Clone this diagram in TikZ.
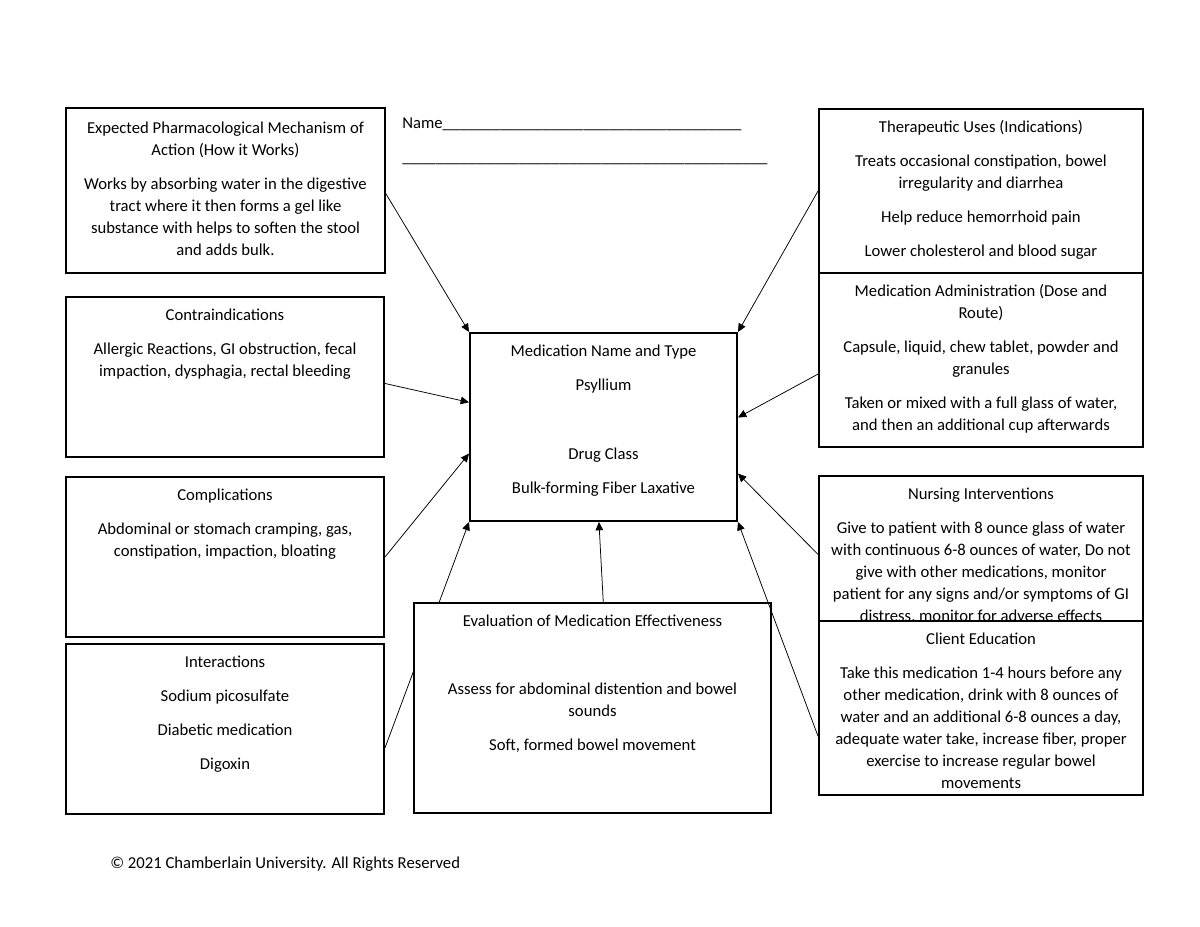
\documentclass[tikz,border=0pt]{standalone}
\usepackage{fontspec}
\setmainfont{Carlito}
\usetikzlibrary{arrows.meta,fit,calc,backgrounds}
\begin{document}
\begin{tikzpicture}[x=0.66pt,y=-0.66pt,
  box/.style={draw, line width=1.3pt, fill=white, inner sep=0pt},
  txt/.style={align=center, inner sep=0pt, font=\fontsize{11}{14.5}\selectfont, anchor=north},
  conn/.style={line width=0.5pt, -{Triangle[length=5.5pt,width=5pt]}}]
\useasboundingbox (0,0) rectangle (1200,927);

% left column
\node[box, fit={(66,108)(385,273)}] (mech) {};
\node[txt, yshift=-7pt] (mecht) at (mech.north) {\strut Expected Pharmacological Mechanism of\\Action (How it Works)\\[7.9pt]Works by absorbing water in the digestive\\tract where it then forms a gel like\\substance with helps to soften the stool\\and adds bulk.};

\node[box, fit={(66,297)(384,457)}] (contra) {};
\node[txt, yshift=-5.65pt] (contrat) at (contra.north) {\strut Contraindications\\[7.9pt]Allergic Reactions, GI obstruction, fecal\\impaction, dysphagia, rectal bleeding};

\node[box, fit={(66,477)(384,637)}] (compl) {};
\node[txt, yshift=-5.65pt] (complt) at (compl.north) {\strut Complications\\[7.9pt]Abdominal or stomach cramping, gas,\\constipation, impaction, bloating};

\node[box, fit={(66,644)(384,814)}] (inter) {};
\node[txt, yshift=-5.65pt] (intert) at (inter.north) {\strut Interactions\\[7.9pt]Sodium picosulfate\\[7.9pt]Diabetic medication\\[7.9pt]Digoxin};

% centre
\node[box, fit={(470,333)(737,521)}] (ctr) {};
\node[txt, yshift=-5.65pt] (ctrt) at (ctr.north) {\strut Medication Name and Type\\[7.9pt]Psyllium\\[31pt]Drug Class\\[7.9pt]Bulk-forming Fiber Laxative};

% right column
\node[box, fit={(819,109)(1143,273)}] (ther) {};
\node[txt, yshift=-5.65pt] (thert) at (ther.north) {\strut Therapeutic Uses (Indications)\\[7.9pt]Treats occasional constipation, bowel\\irregularity and diarrhea\\[7.9pt]Help reduce hemorrhoid pain\\[7.9pt]Lower cholesterol and blood sugar};

\node[box, fit={(819,273)(1143,447)}] (admin) {};
\node[txt, yshift=-5.65pt] (admint) at (admin.north) {\strut Medication Administration (Dose and\\Route)\\[7.9pt]Capsule, liquid, chew tablet, powder and\\granules\\[7.9pt]Taken or mixed with a full glass of water,\\and then an additional cup afterwards};

\node[box, fit={(819,476)(1143,621)}] (nurse) {};
\node[txt, yshift=-5.65pt] (nurset) at (nurse.north) {\strut Nursing Interventions\\[7.9pt]Give to patient with 8 ounce glass of water\\with continuous 6-8 ounces of water, Do not\\give with other medications, monitor\\patient for any signs and/or symptoms of GI\\distress, monitor for adverse effects};

\node[box, fit={(819,621)(1143,795)}] (client) {};
\node[txt, yshift=-5.65pt] (clientt) at (client.north) {\strut Client Education\\[7.9pt]Take this medication 1-4 hours before any\\other medication, drink with 8 ounces of\\water and an additional 6-8 ounces a day,\\adequate water take, increase fiber, proper\\exercise to increase regular bowel\\movements};

% evaluation
\node[box, fit={(414,603)(771,813)}] (eval) {};
\node[txt, yshift=-5.65pt] (evalt) at (eval.north) {\strut Evaluation of Medication Effectiveness\\[30.4pt]Assess for abdominal distention and bowel\\sounds\\[7.9pt]Soft, formed bowel movement};

% name field and footer
\node[txt, anchor=north west, align=left] (namef) at (402,112.6) {\strut Name\_\_\_\_\_\_\_\_\_\_\_\_\_\_\_\_\_\_\_\_\_\_\_\_\_\_\_\_\_\_\_\_\_\_\_\_\\[7.9pt]\_\_\_\_\_\_\_\_\_\_\_\_\_\_\_\_\_\_\_\_\_\_\_\_\_\_\_\_\_\_\_\_\_\_\_\_\_\_\_\_\_\_\_\_};
\node[txt, anchor=west] (copy) at (110,864.5) {© 2021 Chamberlain University. All Rights Reserved};

% connectors
\begin{pgfonlayer}{background}
\draw[conn] ($(inter.north east)!0.61!(inter.south east)$) -- (ctr.south west);
\end{pgfonlayer}
\draw[conn] ($(mech.north east)!0.52!(mech.south east)$) -- (ctr.north west);
\draw[conn] (ther.west) -- (ctr.north east);
\draw[conn] ($(contra.north east)!0.54!(contra.south east)$) -- ($(ctr.north west)!0.37!(ctr.south west)$);
\draw[conn] (compl.east) -- ($(ctr.north west)!0.64!(ctr.south west)$);
\draw[conn] ($(admin.north west)!0.58!(admin.south west)$) -- ($(ctr.north east)!0.45!(ctr.south east)$);
\draw[conn] ($(nurse.north west)!0.54!(nurse.south west)$) -- ($(ctr.north east)!0.745!(ctr.south east)$);
\draw[conn] ($(client.north west)!0.66!(client.south west)$) -- (ctr.south east);
\draw[conn] ($(eval.north west)!0.53!(eval.north east)$) -- ($(ctr.south west)!0.483!(ctr.south east)$);
\end{tikzpicture}
\end{document}
